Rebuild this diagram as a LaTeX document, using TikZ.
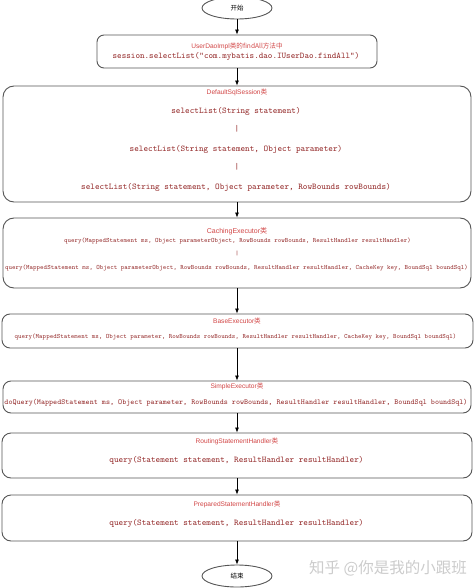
\documentclass[tikz,border=0pt]{standalone}
\usepackage{fontspec}
\setmainfont{Liberation Sans}
\newfontfamily\cjk{Noto Sans CJK SC}
\usetikzlibrary{arrows.meta,shapes.geometric}
\definecolor{ttl}{RGB}{210,70,70}
\definecolor{cod}{RGB}{150,45,45}
\definecolor{edgec}{RGB}{85,85,85}
\tikzset{
  box/.style={draw=edgec, line width=0.9pt, rounded corners=11pt, inner sep=0pt, minimum width=468pt},
  term/.style={draw=edgec, line width=0.9pt, ellipse, minimum width=70pt, minimum height=22pt, inner sep=0pt, font=\cjk\fontsize{6.5}{7}\selectfont},
  ttltext/.style={text=ttl, inner sep=0pt, font=\fontsize{6.6}{7}\selectfont},
  codetext/.style={text=cod, inner sep=0pt},
  arr/.style={draw=black, line width=0.7pt, -{Latex[length=5pt,width=4pt]}},
  wmark/.style={text=gray!40, inner sep=0pt, font=\cjk\fontsize{15.5}{16}\selectfont}
}
\begin{document}
\begin{tikzpicture}[x=1pt,y=-1pt]
\useasboundingbox (0,0) rectangle (474,588);
\fill[white] (0,0) rectangle (474,588);

% terminals
\node[term] (start) at (237,8) {开始};
\node[term] (end) at (237,576) {结束};

% boxes
\node[box, minimum width=280pt, minimum height=33pt, rounded corners=7pt] (b1) at (237,51.5) {};
\node[box, minimum height=116pt] (b2) at (237,144) {};
\node[box, minimum height=70pt] (b3) at (237,253) {};
\node[box, minimum width=471pt, minimum height=34pt, rounded corners=8pt] (b4) at (237.5,331) {};
\node[box, minimum height=32pt, rounded corners=8pt] (b5) at (237,397) {};
\node[box, minimum width=470pt, minimum height=45pt, rounded corners=9pt] (b6) at (237,455.5) {};
\node[box, minimum width=470pt, minimum height=46pt, rounded corners=9pt] (b7) at (237,518) {};

% box 1
\node[ttltext] (t1) at (237,46) {UserDaoImpl\cjk{类的}findAll\cjk{方法中}};
\node[codetext, font=\ttfamily\fontsize{8.7}{9}\selectfont] (c1) at (236,56.5) {session.selectList(“com.mybatis.dao.IUserDao.findAll”)};

% box 2
\node[ttltext] (t2) at (237,92) {DefaultSqlSession\cjk{类}};
\node[codetext, font=\ttfamily\fontsize{8.8}{9}\selectfont] (c21) at (236,111) {selectList(String statement)};
\node[codetext, font=\ttfamily\fontsize{8.8}{9}\selectfont] (p21) at (237,129) {|};
\node[codetext, font=\ttfamily\fontsize{8.8}{9}\selectfont] (c22) at (236,149) {selectList(String statement, Object parameter)};
\node[codetext, font=\ttfamily\fontsize{8.8}{9}\selectfont] (p22) at (237,167) {|};
\node[codetext, font=\ttfamily\fontsize{8.8}{9}\selectfont] (c23) at (236,187.5) {selectList(String statement, Object parameter, RowBounds rowBounds)};

% box 3
\node[ttltext, font=\fontsize{7}{7}\selectfont] (t3) at (237,231) {CachingExecutor\cjk{类}};
\node[codetext, font=\ttfamily\fontsize{6.6}{7}\selectfont] (c31) at (237.5,240.5) {query(MappedStatement ms, Object parameterObject, RowBounds rowBounds, ResultHandler resultHandler)};
\node[codetext, font=\ttfamily\fontsize{6.6}{7}\selectfont] (p31) at (237,253) {|};
\node[codetext, font=\ttfamily\fontsize{6.6}{7}\selectfont] (c32) at (236.5,268) {query(MappedStatement ms, Object parameterObject, RowBounds rowBounds, ResultHandler resultHandler, CacheKey key, BoundSql boundSql)};

% box 4
\node[ttltext] (t4) at (237,321) {BaseExecutor\cjk{类}};
\node[codetext, font=\ttfamily\fontsize{6.6}{7}\selectfont] (c4) at (235.5,337) {query(MappedStatement ms, Object parameter, RowBounds rowBounds, ResultHandler resultHandler, CacheKey key, BoundSql boundSql)};

% box 5
\node[ttltext] (t5) at (237,386) {SimpleExecutor\cjk{类}};
\node[codetext, font=\ttfamily\fontsize{7.65}{8}\selectfont] (c5) at (236,403) {doQuery(MappedStatement ms, Object parameter, RowBounds rowBounds, ResultHandler resultHandler, BoundSql boundSql)};

% box 6
\node[ttltext] (t6) at (237,441) {RoutingStatementHandler\cjk{类}};
\node[codetext, font=\ttfamily\fontsize{8.8}{9}\selectfont] (c6) at (236.5,460) {query(Statement statement, ResultHandler resultHandler)};

% box 7
\node[ttltext] (t7) at (237,504) {PreparedStatementHandler\cjk{类}};
\node[codetext, font=\ttfamily\fontsize{8.8}{9}\selectfont] (c7) at (236.5,523) {query(Statement statement, ResultHandler resultHandler)};

% connectors
\draw[arr] (start) -- (b1);
\draw[arr] (b1) -- (b2);
\draw[arr] (b2) -- (b3);
\draw[arr] (b3) -- (b4.north -| b3.south);
\draw[arr] (b4.south -| b3.south) -- (b5);
\draw[arr] (b5) -- (b6.north -| b5.south);
\draw[arr] (b6.south -| b5.south) -- (b7.north -| b5.south);
\draw[arr] (b7.south -| b5.south) -- (end);

% watermark
\node[wmark] (wm) at (388,568) {知乎 @你是我的小跟班};
\end{tikzpicture}
\end{document}
